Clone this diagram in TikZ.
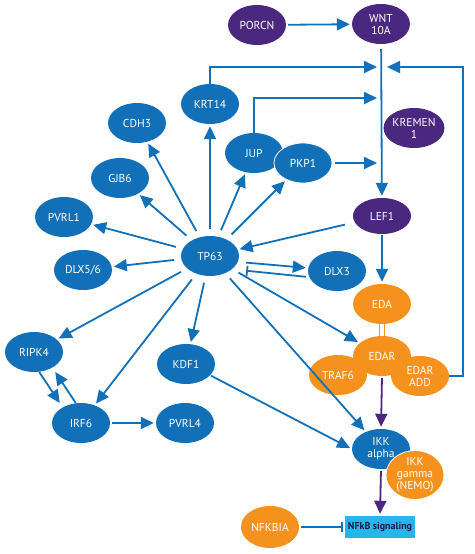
\documentclass[tikz,border=0pt]{standalone}
\usepackage{fontspec}
\setmainfont{PT Sans}
\usetikzlibrary{shapes.geometric, arrows.meta, positioning}
\definecolor{geneblue}{RGB}{18, 112, 184}
\definecolor{wntpurple}{RGB}{74, 40, 128}
\definecolor{edaorange}{RGB}{245, 146, 30}
\definecolor{nfkbcyan}{RGB}{38, 182, 234}
\definecolor{textnavy}{RGB}{25, 30, 70}

\begin{document}
\begin{tikzpicture}[
    x=1pt, y=-1pt,
    gene/.style={ellipse, fill=geneblue, text=white, minimum width=58pt, minimum height=40pt, inner sep=0pt, align=center, font=\fontsize{11.5}{12}\selectfont},
    wntgene/.style={gene, fill=wntpurple},
    edagene/.style={gene, fill=edaorange},
    arrow/.style={-{Triangle[length=13pt, width=12pt]}, line width=1.8pt, color=geneblue, shorten <=7pt, shorten >=2pt},
    elbow/.style={arrow, shorten <=0pt, shorten >=0pt},
    purplearrow/.style={arrow, color=wntpurple, shorten <=2pt},
    inhibit/.style={-{Bar[width=10pt]}, line width=1.8pt, color=geneblue, shorten <=2pt, shorten >=2pt},
]
\useasboundingbox (0, 0) rectangle (474, 554);

% Wnt pathway
\node[wntgene] (porcn) at (257, 25) {PORCN};
\node[wntgene] (wnt) at (381, 24) {WNT\\10A};
\node[wntgene] (kremen) at (414, 128) {KREMEN\\1};
\node[wntgene, minimum height=36pt] (lef) at (382, 216) {LEF1};

% Targets around TP63
\node[gene] (tp) at (210, 256) {TP63};
\node[gene] (krt) at (210, 104) {KRT14};
\node[gene] (cdh) at (137, 123) {CDH3};
\node[gene] (gjb) at (120, 178) {GJB6};
\node[gene] (pvrla) at (64, 217) {PVRL1};
\node[gene] (dlxa) at (83, 270) {DLX5/6};
\node[gene] (jup) at (254, 153) {JUP};
\node[gene, draw=white, line width=0.8pt] (pkp) at (303, 163) {PKP1};
\node[gene] (dlxb) at (337, 271) {DLX3};
\node[gene] (ripk) at (34, 352) {RIPK4};
\node[gene] (kdf) at (186, 364) {KDF1};
\node[gene] (irf) at (81, 423) {IRF6};
\node[gene] (pvrlb) at (185, 423) {PVRL4};

% EDA complex
\node[edagene] (eda) at (382, 304) {EDA};
\node[edagene] (traf) at (338, 375) {TRAF6};
\node[edagene] (edaradd) at (420, 376) {EDAR\\ADD};
\node[edagene] (edar) at (382, 356) {EDAR};

% NF-kB
\node[gene] (ikka) at (381, 449) {IKK\\alpha};
\node[edagene, draw=white, line width=0.8pt] (ikkg) at (415, 475) {IKK\\gamma\\(NEMO)};
\node[edagene, minimum height=42pt] (nfkbia) at (270, 527) {NFKBIA};
\node[rectangle, fill=nfkbcyan, text=textnavy, minimum width=70pt, minimum height=22pt, inner sep=1pt, font=\fontsize{10}{10}\selectfont\bfseries] (nfkb) at (380, 527) {NFkB signaling};

% Free ends on the WNT line
\coordinate (wntin1) at (377, 67);
\coordinate (wntin2) at (387, 67);
\coordinate (wntin3) at (377, 98);
\coordinate (wntin4) at (377, 163);

% Arrows
\draw[arrow, shorten <=2pt] (porcn) -- (wnt);
\draw[arrow, shorten <=5pt] (wnt) -- (lef);
\draw[elbow] (krt.north) |- (wntin1);
\draw[elbow] (jup.north) |- (wntin3);
\draw[elbow, shorten <=3pt] (pkp.east) -- (wntin4);
\draw[elbow] (edaradd.east) -- ++(14, 0) |- (wntin2);
\draw[arrow, shorten <=10pt] (lef) -- (tp);
\draw[arrow, shorten <=1pt] (lef) -- (eda);

\foreach \target in {krt, cdh, gjb, pvrla, dlxa, jup, pkp, ripk, irf, kdf, edar, ikka}
    \draw[arrow] (tp) -- (\target);
\draw[arrow] ([yshift=-6pt]tp.east) -- ([yshift=3pt]dlxb.west);
\draw[inhibit, shorten >=7pt] ([yshift=-6pt]dlxb.west) -- ([yshift=-14pt]tp.east);

\draw[arrow, transform canvas={xshift=-8pt}, shorten <=2pt] (ripk) -- (irf);
\draw[arrow, transform canvas={xshift=8pt}, shorten <=2pt] (irf) -- (ripk);
\draw[arrow, shorten <=2pt] (irf) -- (pvrlb);
\draw[arrow, shorten <=1pt] (kdf.-25) -- (ikka.west);

% EDA-EDAR binding
\draw[edaorange, line width=1.5pt] ([xshift=-2.5pt]eda.south) -- ([xshift=-2.5pt]edar.north);
\draw[edaorange, line width=1.5pt] ([xshift=2.5pt]eda.south) -- ([xshift=2.5pt]edar.north);

\draw[purplearrow] (edar.south) -- (ikka.north);
\draw[purplearrow] (ikka.south) -- (nfkb.north);
\draw[inhibit] (nfkbia) -- (nfkb);

\end{tikzpicture}
\end{document}
